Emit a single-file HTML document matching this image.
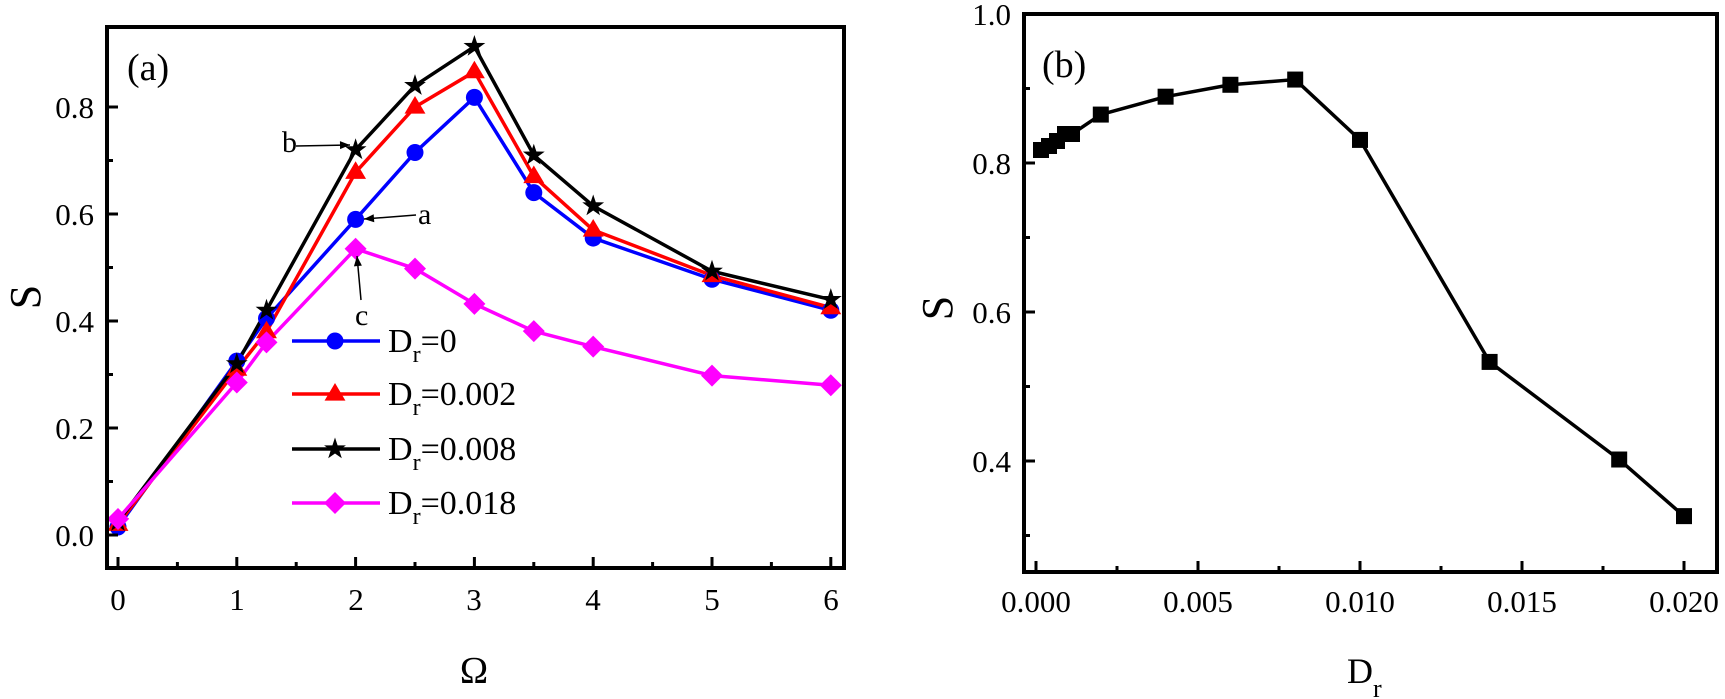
<!DOCTYPE html>
<html><head><meta charset="utf-8"><style>
html,body{margin:0;padding:0;background:#fff;overflow:hidden}
svg{display:block}
text{font-family:"Liberation Serif",serif;fill:#000}
</style></head><body>
<svg id="s" width="1725" height="699" viewBox="0 0 1725 699" xmlns="http://www.w3.org/2000/svg">
<g id="g"></g>
<g font-size="31" text-anchor="end">
<text x="94" y="546">0.0</text>
<text x="94" y="439">0.2</text>
<text x="94" y="332">0.4</text>
<text x="94" y="225">0.6</text>
<text x="94" y="118">0.8</text>
</g>
<g font-size="31" text-anchor="middle">
<text x="118" y="610">0</text>
<text x="237" y="610">1</text>
<text x="356" y="610">2</text>
<text x="474" y="610">3</text>
<text x="593" y="610">4</text>
<text x="712" y="610">5</text>
<text x="831" y="610">6</text>
</g>
<text x="127" y="80" font-size="38">(a)</text>
<text x="474" y="683" font-size="38" text-anchor="middle">Ω</text>
<text transform="translate(40,297) rotate(-90)" font-size="44" text-anchor="middle">S</text>
<text x="282" y="152" font-size="30">b</text>
<text x="418" y="224" font-size="30">a</text>
<text x="355" y="325" font-size="30">c</text>
<g font-size="34">
<text x="388" y="352">D<tspan font-size="24" dy="10">r</tspan><tspan dy="-10">=0</tspan></text>
<text x="388" y="405">D<tspan font-size="24" dy="10">r</tspan><tspan dy="-10">=0.002</tspan></text>
<text x="388" y="460">D<tspan font-size="24" dy="10">r</tspan><tspan dy="-10">=0.008</tspan></text>
<text x="388" y="514">D<tspan font-size="24" dy="10">r</tspan><tspan dy="-10">=0.018</tspan></text>
</g>
<g font-size="31" text-anchor="end">
<text x="1011" y="25">1.0</text>
<text x="1011" y="174">0.8</text>
<text x="1011" y="323">0.6</text>
<text x="1011" y="472">0.4</text>
</g>
<g font-size="31" text-anchor="middle">
<text x="1036" y="612">0.000</text>
<text x="1198" y="612">0.005</text>
<text x="1360" y="612">0.010</text>
<text x="1522" y="612">0.015</text>
<text x="1684" y="612">0.020</text>
</g>
<text x="1042" y="77" font-size="38">(b)</text>
<text x="1347" y="683" font-size="36">D<tspan font-size="26" dy="14">r</tspan></text>
<text transform="translate(952,308) rotate(-90)" font-size="44" text-anchor="middle">S</text>
</svg>
<script>
var g=document.getElementById('g'),h='';
function L(x1,y1,x2,y2,c,w){h+='<line x1="'+x1+'" y1="'+y1+'" x2="'+x2+'" y2="'+y2+'" stroke="'+c+'" stroke-width="'+w+'"/>';}
function P(pts,c,w){h+='<polyline fill="none" stroke="'+c+'" stroke-width="'+w+'" stroke-linejoin="round" points="'+pts.map(p=>p[0]+','+p[1]).join(' ')+'"/>';}
function circ(x,y,c){h+='<circle cx="'+x+'" cy="'+y+'" r="8.5" fill="'+c+'"/>';}
function tri(x,y,c){var r=11;h+='<polygon fill="'+c+'" points="'+x+','+(y-r)+' '+(x+r*0.95)+','+(y+r*0.6)+' '+(x-r*0.95)+','+(y+r*0.6)+'"/>';}
function dia(x,y,c){var r=11;h+='<polygon fill="'+c+'" points="'+x+','+(y-r)+' '+(x+r)+','+y+' '+x+','+(y+r)+' '+(x-r)+','+y+'"/>';}
function star(x,y,c){var p=[];for(var i=0;i<10;i++){var r=i%2?4.5:11.5,a=-Math.PI/2+i*Math.PI/5;p.push((x+r*Math.cos(a)).toFixed(1)+','+(y+r*Math.sin(a)).toFixed(1));}h+='<polygon fill="'+c+'" points="'+p.join(' ')+'"/>';}
function sq(x,y){h+='<rect x="'+(x-8)+'" y="'+(y-8)+'" width="16" height="16" fill="#000"/>';}
var X=v=>118+118.8*v,Y=s=>535-535*s;
var xs=[0,1,1.25,2,2.5,3,3.5,4,5,6];
var ser=[
['#0000ff',[0.015,0.325,0.405,0.59,0.715,0.818,0.64,0.555,0.478,0.42],circ],
['#ff0000',[0.02,0.31,0.38,0.678,0.80,0.866,0.67,0.57,0.485,0.425],tri],
['#000000',[0.025,0.32,0.42,0.72,0.84,0.913,0.71,0.615,0.493,0.44],star],
['#ff00ff',[0.03,0.285,0.36,0.535,0.498,0.432,0.381,0.352,0.298,0.28],dia]];
ser.forEach(s=>{P(xs.map((x,i)=>[X(x),Y(s[1][i])]),s[0],3.5);});
ser.forEach(s=>{xs.forEach((x,i)=>s[2](X(x),Y(s[1][i]),s[0]));});
[341,394,449,503].forEach((y,i)=>{L(292,y,380,y,ser[i][0],3.5);ser[i][2](335,y,ser[i][0]);});
function arr(x1,y1,x2,y2){L(x1,y1,x2,y2,'#000',1.5);var a=Math.atan2(y2-y1,x2-x1),l=10,w=4;
h+='<polygon fill="#000" points="'+x2+','+y2+' '+(x2-l*Math.cos(a)+w*Math.sin(a))+','+(y2-l*Math.sin(a)-w*Math.cos(a))+' '+(x2-l*Math.cos(a)-w*Math.sin(a))+','+(y2-l*Math.sin(a)+w*Math.cos(a))+'"/>';}
arr(296,146,350,145);arr(416,215,364,219);arr(361,300,357,256);
h+='<rect x="107" y="27" width="737" height="541" fill="none" stroke="#000" stroke-width="4"/>';
for(var k=0;k<=8;k++){var y=Y(k/10);L(107,y,k%2?113:118,y,'#000',3);}
for(var k=0;k<=12;k++){var x=X(k/2);L(x,568,x,k%2?562:557,'#000',3);}
var XB=v=>1036+32400*v,YB=s=>163-(s-0.8)*745;
var bp=[[1041,150],[1049,146],[1057,141],[1065,134],[1072,134],[XB(0.002),YB(0.865)],[XB(0.004),YB(0.889)],[XB(0.006),YB(0.905)],[XB(0.008),YB(0.912)],[XB(0.010),YB(0.831)],[XB(0.014),YB(0.533)],[XB(0.018),YB(0.402)],[XB(0.020),YB(0.326)]];
P(bp,'#000',3.5);bp.forEach(p=>sq(p[0],p[1]));
h+='<rect x="1024" y="14" width="693" height="558" fill="none" stroke="#000" stroke-width="4"/>';
for(var k=3;k<=10;k++){var y=YB(k/10);L(1024,y,k%2?1030:1035,y,'#000',3);}
for(var k=0;k<=8;k++){var x=XB(k*0.0025);L(x,572,x,k%2?566:561,'#000',3);}
g.innerHTML=h;
</script>
</body></html>
